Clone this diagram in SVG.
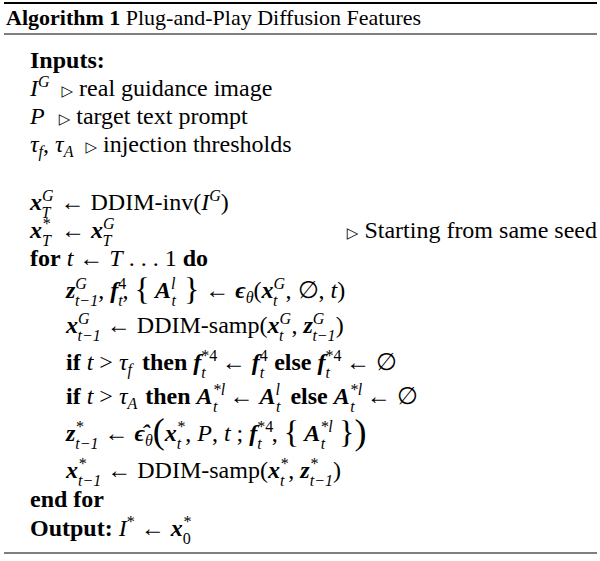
<svg xmlns="http://www.w3.org/2000/svg" width="600" height="561" viewBox="0 0 600 561">
<style>
text{font-family:"Liberation Serif","DejaVu Serif",serif;font-size:24px;fill:#000}
.b{font-weight:bold}
.i{font-style:italic}
.bi{font-weight:bold;font-style:italic}
.s{font-size:16px}
.t{font-size:15px}
.ti{font-size:22px}
</style>
<rect width="600" height="561" fill="#fff"/>
<line x1="4" y1="3" x2="597" y2="3" stroke="#000" stroke-width="2"/>
<line x1="4" y1="34" x2="597" y2="34" stroke="#000" stroke-width="1.2"/>
<line x1="4" y1="553" x2="597" y2="553" stroke="#000" stroke-width="1.2"/>
<g id="title"><text x="6" y="25" class="ti"><tspan class="b">Algorithm 1</tspan> Plug-and-Play Diffusion Features</text></g>
<g id="inputs">
<text x="30" y="68" class="b">Inputs:</text>
<text x="30" y="96"><tspan class="i">I</tspan><tspan class="i s" dy="-9">G</tspan><tspan dy="9" dx="12" class="t">▷</tspan> real guidance image</text>
<text x="30" y="124"><tspan class="i">P</tspan><tspan dx="14" class="t">▷</tspan> target text prompt</text>
<text x="30" y="152"><tspan class="i">τ</tspan><tspan class="i s" dy="5">f</tspan><tspan dy="-5">, </tspan><tspan class="i">τ</tspan><tspan class="i s" dy="5">A</tspan><tspan dy="-5" dx="12" class="t">▷</tspan> injection thresholds</text>
</g>
<g id="body">
<text x="30" y="210"><tspan class="bi">x</tspan><tspan class="i s" dy="-9">G</tspan><tspan class="i s" dx="-12" dy="17">T</tspan><tspan dy="-8" dx="4"> ← DDIM-inv(</tspan><tspan class="i">I</tspan><tspan class="i s" dy="-9">G</tspan><tspan dy="9">)</tspan></text>
<text x="30" y="238"><tspan class="bi">x</tspan><tspan class="i s" dy="-9">*</tspan><tspan class="i s" dx="-8" dy="17">T</tspan><tspan dy="-8" dx="4"> ← </tspan><tspan class="bi">x</tspan><tspan class="i s" dy="-9">G</tspan><tspan class="i s" dx="-12" dy="17">T</tspan></text>
<text x="597" y="238" text-anchor="end"><tspan class="t">▷</tspan> Starting from same seed</text>
<text x="30" y="266"><tspan class="b">for</tspan> <tspan class="i">t</tspan> ← <tspan class="i">T</tspan> . . . 1 <tspan class="b">do</tspan></text>
<text x="66" y="298"><tspan class="bi">z</tspan><tspan class="i s" dy="-9">G</tspan><tspan class="i s" dx="-12" dy="17">t−1</tspan><tspan dy="-8">, </tspan><tspan class="bi">f</tspan><tspan class="s" dy="-9">4</tspan><tspan class="i s" dx="-8" dy="17">t</tspan><tspan dy="-8">, </tspan><tspan font-size="32" dy="2">{</tspan><tspan class="bi" dy="-2"> A</tspan><tspan class="i s" dy="-9">l</tspan><tspan class="i s" dx="-4" dy="17">t</tspan><tspan font-size="32" dy="-6"> }</tspan><tspan dy="-2"> ← </tspan><tspan class="bi">ϵ</tspan><tspan class="i s" dy="5">θ</tspan><tspan dy="-5">(</tspan><tspan class="bi">x</tspan><tspan class="i s" dy="-9">G</tspan><tspan class="i s" dx="-12" dy="17">t</tspan><tspan dy="-8" dx="8">, ∅, </tspan><tspan class="i">t</tspan>)</text>
<text x="66" y="333"><tspan class="bi">x</tspan><tspan class="i s" dy="-9">G</tspan><tspan class="i s" dx="-12" dy="17">t−1</tspan><tspan dy="-8"> ← DDIM-samp(</tspan><tspan class="bi">x</tspan><tspan class="i s" dy="-9">G</tspan><tspan class="i s" dx="-12" dy="17">t</tspan><tspan dy="-8" dx="8">, </tspan><tspan class="bi">z</tspan><tspan class="i s" dy="-9">G</tspan><tspan class="i s" dx="-12" dy="17">t−1</tspan><tspan dy="-8">)</tspan></text>
<text x="66" y="370"><tspan class="b">if</tspan> <tspan class="i">t</tspan> &gt; <tspan class="i">τ</tspan><tspan class="i s" dy="5">f</tspan><tspan class="b" dy="-5" dx="10">then</tspan> <tspan class="bi">f</tspan><tspan class="s" dy="-9">*4</tspan><tspan class="i s" dx="-16" dy="17">t</tspan><tspan dy="-8" dx="10"> ← </tspan><tspan class="bi">f</tspan><tspan class="s" dy="-9">4</tspan><tspan class="i s" dx="-8" dy="17">t</tspan><tspan class="b" dy="-8" dx="10">else</tspan> <tspan class="bi">f</tspan><tspan class="s" dy="-9">*4</tspan><tspan class="i s" dx="-16" dy="17">t</tspan><tspan dy="-8" dx="10"> ← ∅</tspan></text>
<text x="66" y="404"><tspan class="b">if</tspan> <tspan class="i">t</tspan> &gt; <tspan class="i">τ</tspan><tspan class="i s" dy="5">A</tspan><tspan class="b" dy="-5" dx="8">then</tspan> <tspan class="bi">A</tspan><tspan class="i s" dy="-9">*l</tspan><tspan class="i s" dx="-12" dy="17">t</tspan><tspan dy="-8" dx="6"> ← </tspan><tspan class="bi">A</tspan><tspan class="i s" dy="-9">l</tspan><tspan class="i s" dx="-4" dy="17">t</tspan><tspan class="b" dy="-8" dx="10">else</tspan> <tspan class="bi">A</tspan><tspan class="i s" dy="-9">*l</tspan><tspan class="i s" dx="-12" dy="17">t</tspan><tspan dy="-8" dx="6"> ← ∅</tspan></text>
<text x="66" y="441"><tspan class="bi">z</tspan><tspan class="i s" dy="-9">*</tspan><tspan class="i s" dx="-8" dy="17">t−1</tspan><tspan dy="-8"> ← </tspan><tspan class="bi">ϵ̂</tspan><tspan class="i s" dy="5">θ</tspan><tspan font-size="36" dy="-3">(</tspan><tspan class="bi" dy="-2">x</tspan><tspan class="i s" dy="-9">*</tspan><tspan class="i s" dx="-8" dy="17">t</tspan><tspan dy="-8" dx="4">, </tspan><tspan class="i">P</tspan>, <tspan class="i">t</tspan> ; <tspan class="bi">f</tspan><tspan class="s" dy="-9">*4</tspan><tspan class="i s" dx="-16" dy="17">t</tspan><tspan dy="-8" dx="10">, </tspan><tspan font-size="32" dy="2">{</tspan><tspan class="bi" dy="-2"> A</tspan><tspan class="i s" dy="-9">*l</tspan><tspan class="i s" dx="-12" dy="17">t</tspan><tspan font-size="32" dy="-6" dx="6"> }</tspan><tspan font-size="36" dy="1">)</tspan></text>
<text x="66" y="478"><tspan class="bi">x</tspan><tspan class="i s" dy="-9">*</tspan><tspan class="i s" dx="-8" dy="17">t−1</tspan><tspan dy="-8"> ← DDIM-samp(</tspan><tspan class="bi">x</tspan><tspan class="i s" dy="-9">*</tspan><tspan class="i s" dx="-8" dy="17">t</tspan><tspan dy="-8" dx="4">, </tspan><tspan class="bi">z</tspan><tspan class="i s" dy="-9">*</tspan><tspan class="i s" dx="-8" dy="17">t−1</tspan><tspan dy="-8">)</tspan></text>
<text x="30" y="507" class="b">end for</text>
<text x="30" y="536"><tspan class="b">Output:</tspan> <tspan class="i">I</tspan><tspan class="s" dy="-9">*</tspan><tspan dy="9"> ← </tspan><tspan class="bi">x</tspan><tspan class="i s" dy="-9">*</tspan><tspan class="s" dx="-8" dy="17">0</tspan></text>
</g>
<g id="connectors"></g>
</svg>
